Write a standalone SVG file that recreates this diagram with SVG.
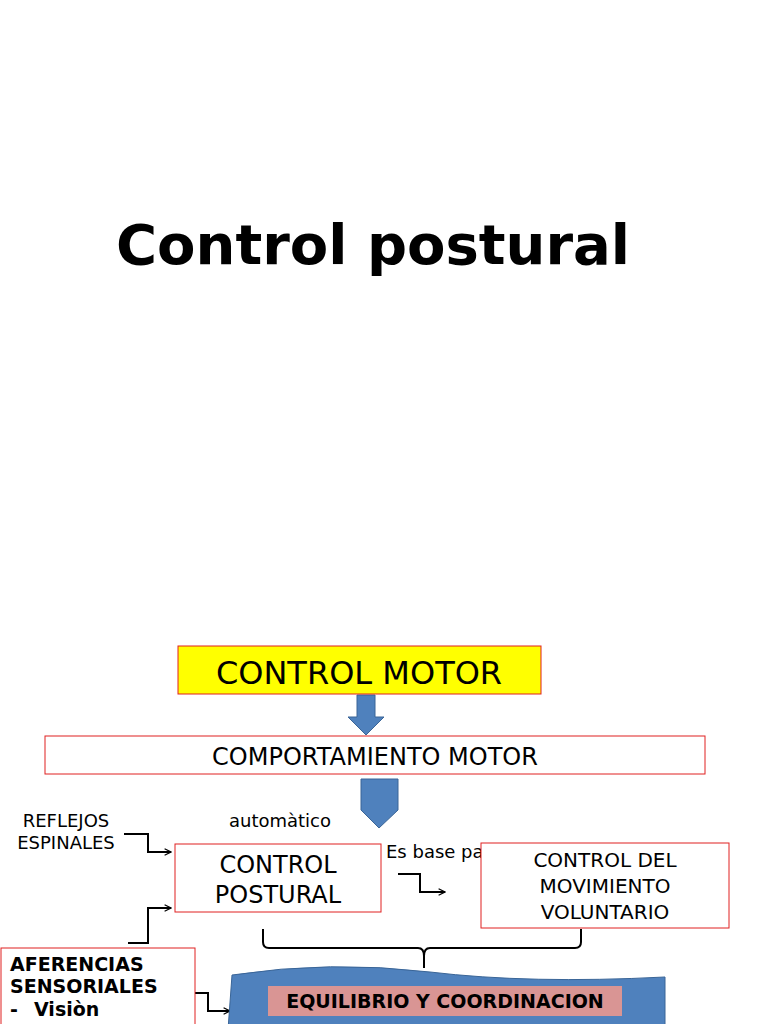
<svg xmlns="http://www.w3.org/2000/svg" width="768" height="1024" viewBox="0 0 768 1024">
<defs>
<style>
text{font-family:"DejaVu Sans","Liberation Sans",sans-serif;fill:#000}
.box{fill:#fff;stroke:#e02020;stroke-width:1}
.ln{fill:none;stroke:#000;stroke-width:2}
.blue{fill:#4f81bd;stroke:#3a6597;stroke-width:1}
</style>
<marker id="ah" viewBox="0 0 10 10" refX="9" refY="5" markerWidth="8" markerHeight="8" markerUnits="userSpaceOnUse" orient="auto"><path d="M1 1L9 5L1 9" fill="none" stroke="#000" stroke-width="1.5"/></marker>
</defs>
<rect width="768" height="1024" fill="#fff"/>
<text x="373" y="264" font-size="56" font-weight="bold" text-anchor="middle">Control postural</text>
<g id="connectors">
<path class="blue" d="M357 695H375V717H384L366 735L348 717H357Z"/>
<path class="blue" d="M361 779H398V810L379 828L361 810Z"/>
<path class="ln" d="M124 834H148V852H171" marker-end="url(#ah)"/>
<path class="ln" d="M128 943H148V908H171" marker-end="url(#ah)"/>
<path class="ln" d="M398 874H420V892H445" marker-end="url(#ah)"/>
<path class="ln" d="M186 993H208V1011H230" marker-end="url(#ah)"/>
<path class="ln" d="M263 929V942Q263 948 269 948H418Q424 948 424 956V968M424 956Q424 948 430 948H575Q581 948 581 942V929"/>
</g>
<g id="control-motor"><rect x="178" y="646" width="363" height="48" fill="#ffff00" stroke="#e02020"/><text x="359" y="684" font-size="32" text-anchor="middle">CONTROL MOTOR</text></g>
<g id="comportamiento"><rect class="box" x="45" y="736" width="660" height="38"/><text x="375" y="765" font-size="24" text-anchor="middle">COMPORTAMIENTO MOTOR</text></g>
<g id="reflejos"><text x="66" y="827" font-size="18" text-anchor="middle">REFLEJOS</text><text x="66" y="849" font-size="18" text-anchor="middle">ESPINALES</text></g>
<g id="automatico"><text x="280" y="827" font-size="18" text-anchor="middle">automàtico</text></g>
<g id="control-postural"><rect class="box" x="175" y="844" width="206" height="68"/><text x="278" y="873" font-size="24" text-anchor="middle">CONTROL</text><text x="278" y="903" font-size="24" text-anchor="middle">POSTURAL</text></g>
<g id="es-base"><text x="444" y="858" font-size="18" text-anchor="middle">Es base para</text></g>
<g id="control-voluntario"><rect class="box" x="481" y="843" width="248" height="85"/><text x="605" y="867" font-size="20" text-anchor="middle">CONTROL DEL</text><text x="605" y="893" font-size="20" text-anchor="middle">MOVIMIENTO</text><text x="605" y="919" font-size="20" text-anchor="middle">VOLUNTARIO</text></g>
<g id="aferencias"><rect class="box" x="1" y="948" width="194" height="80"/><text x="10" y="971" font-size="19" font-weight="bold">AFERENCIAS</text><text x="10" y="993" font-size="19" font-weight="bold">SENSORIALES</text><text x="10" y="1016" font-size="19" font-weight="bold">-</text><text x="34" y="1016" font-size="19" font-weight="bold">Visiòn</text></g>
<g id="equilibrio"><path class="blue" d="M232 975Q330 960 430 972T665 977V1030H228Z"/><rect x="268" y="986" width="354" height="30" fill="#d99594"/><text x="445" y="1008" font-size="19" font-weight="bold" text-anchor="middle">EQUILIBRIO Y COORDINACION</text></g>
</svg>
